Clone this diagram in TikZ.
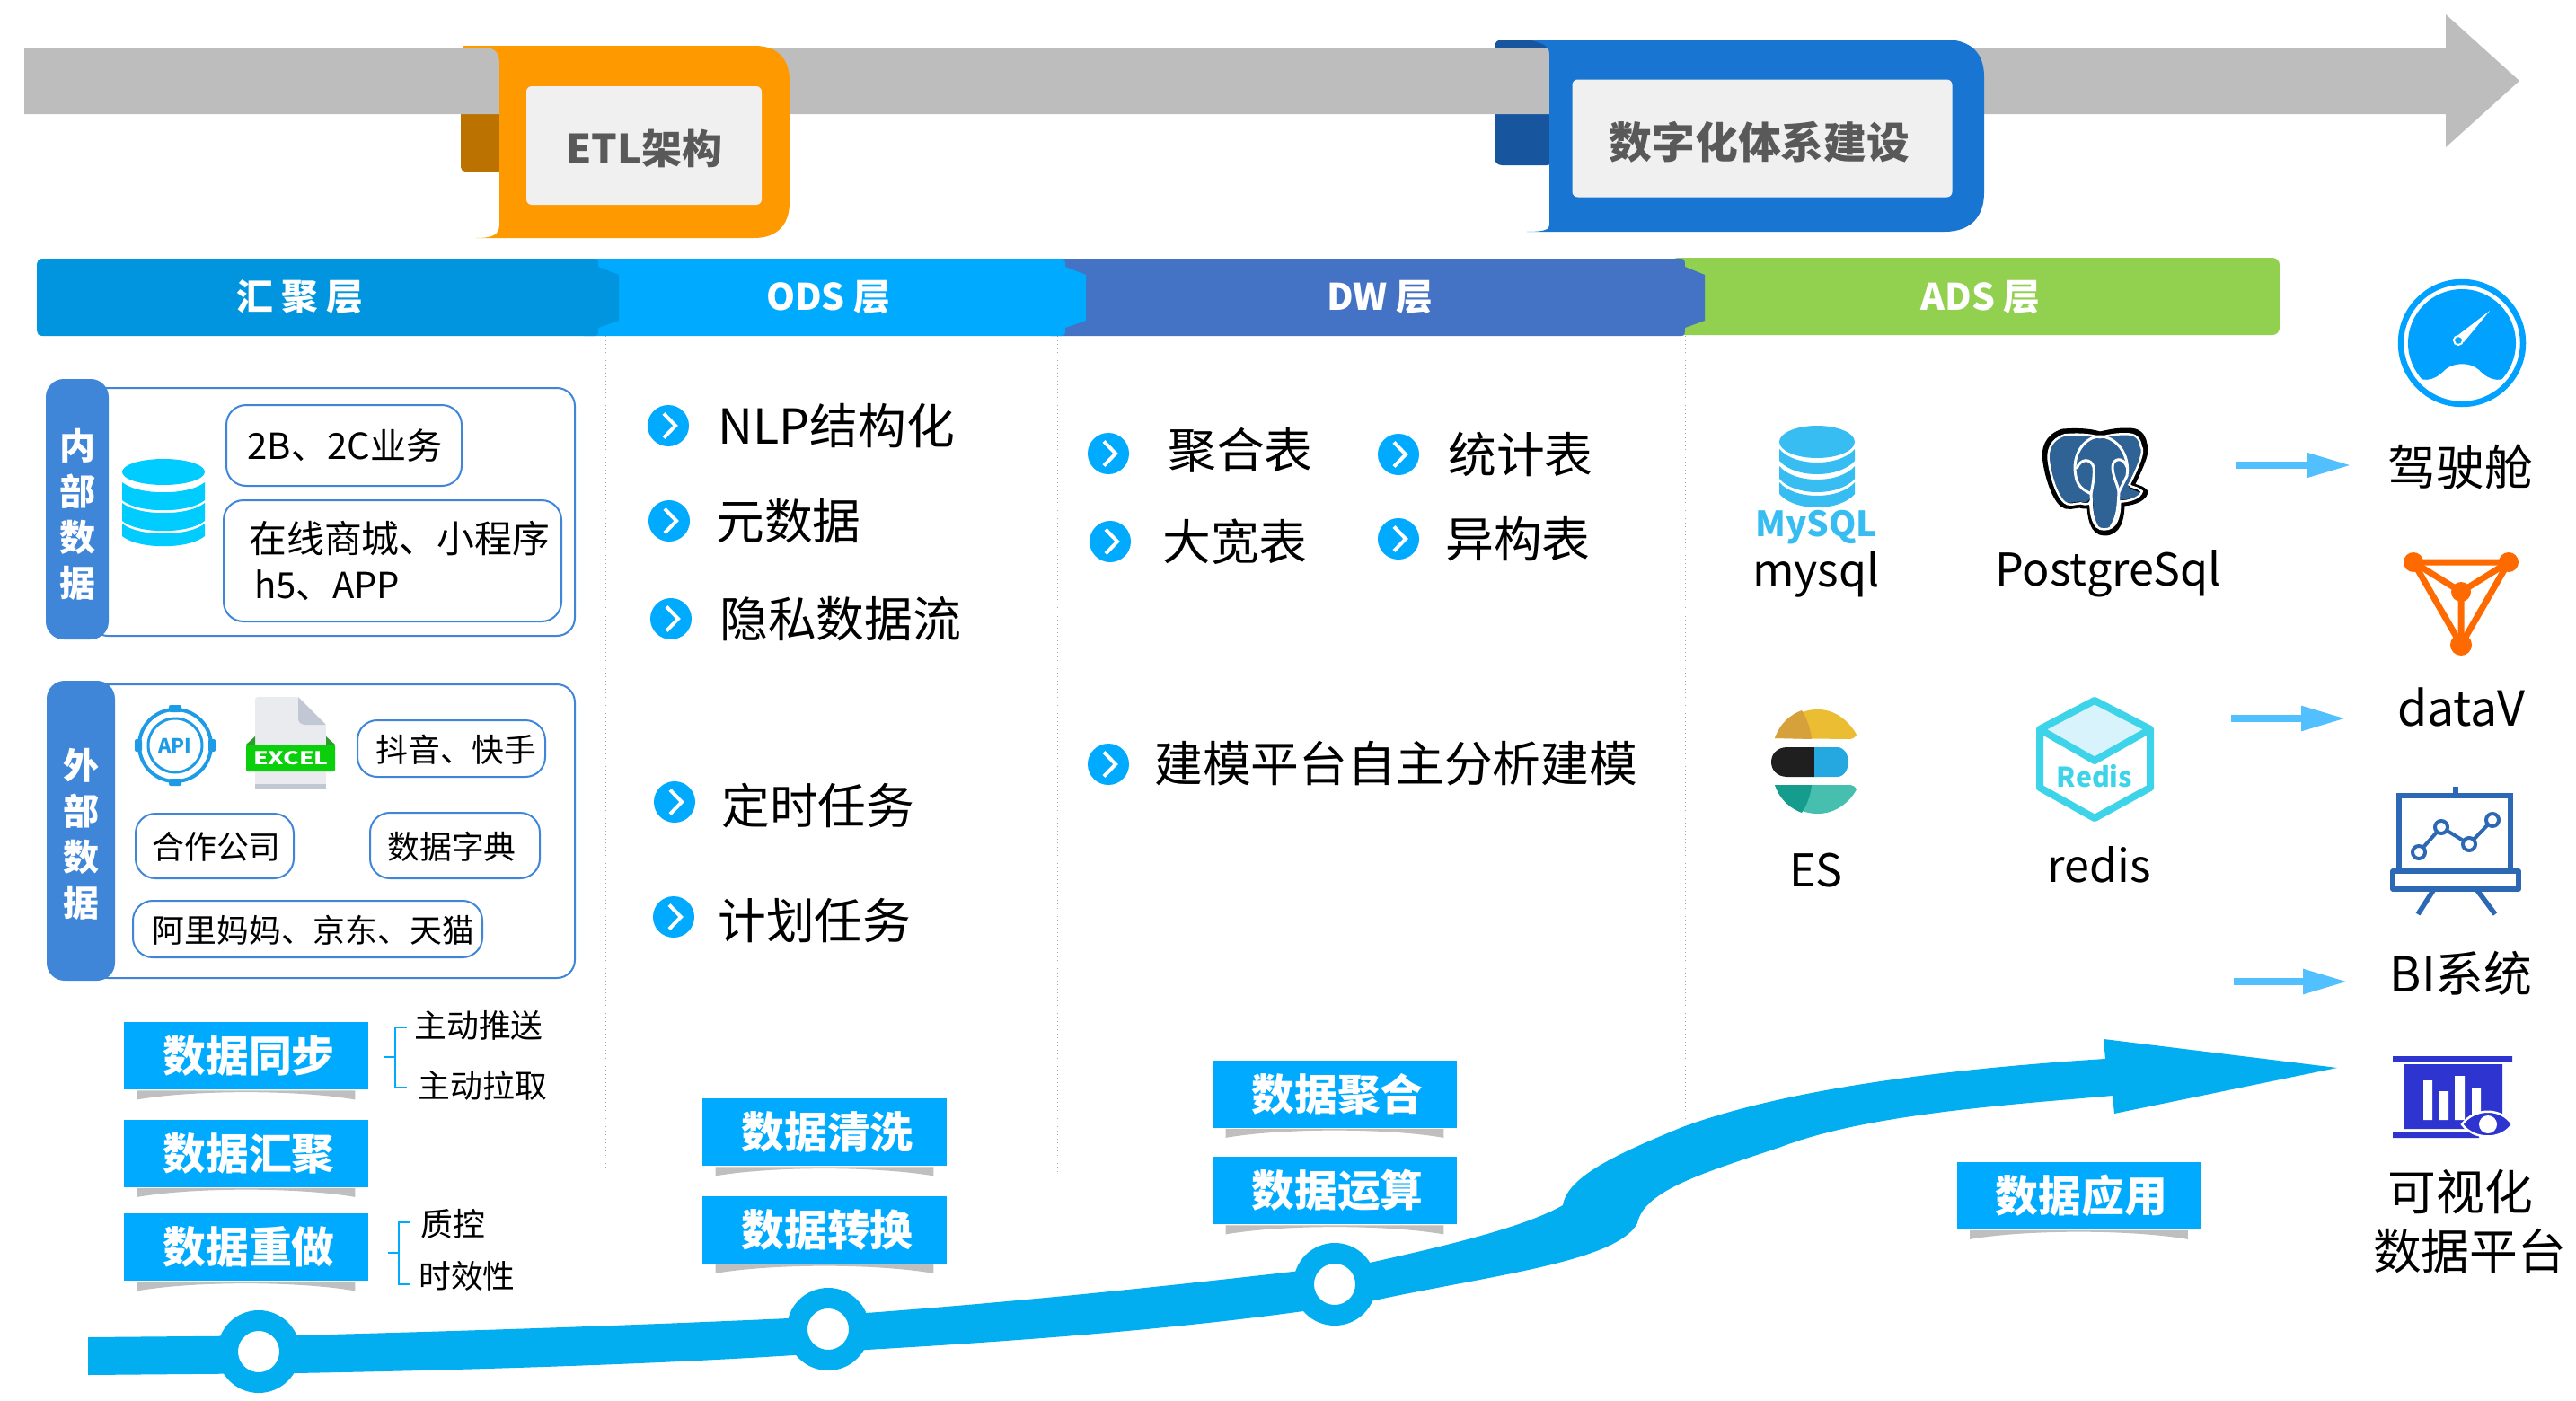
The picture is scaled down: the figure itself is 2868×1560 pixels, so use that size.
\documentclass[tikz,border=0pt]{standalone}
\usepackage{fontspec}
\setmainfont{Noto Sans CJK SC}
\usepackage{tikz}
\usetikzlibrary{shapes,arrows,arrows.meta,shapes.geometric}

\definecolor{trackgray}{HTML}{BDBDBD}
\definecolor{etlorange}{HTML}{FF9900}
\definecolor{etlfold}{HTML}{BB7200}
\definecolor{digiblue}{HTML}{1875D1}
\definecolor{digifold}{HTML}{17559F}
\definecolor{plaque}{HTML}{F0F0F0}
\definecolor{plaquetxt}{HTML}{595959}
\definecolor{gatherblue}{HTML}{0095DE}
\definecolor{odsblue}{HTML}{00AAFF}
\definecolor{dwblue}{HTML}{4472C4}
\definecolor{adsgreen}{HTML}{92D050}
\definecolor{tabblue}{HTML}{3F86D9}
\definecolor{linkblue}{HTML}{52C0FF}
\definecolor{riverblue}{HTML}{02AEF0}
\definecolor{shadegray}{HTML}{BFBFBF}
\definecolor{sqlblue}{HTML}{38BDF3}
\definecolor{dbcyan}{HTML}{00CCFF}
\definecolor{redisteal}{HTML}{3DD3E8}
\definecolor{boardblue}{HTML}{2D68B4}
\definecolor{vizblue}{HTML}{2D34CF}
\definecolor{vorange}{HTML}{FF6A00}
\definecolor{apiblue}{HTML}{1E9BE6}
\definecolor{pgblue}{HTML}{2F6295}
\definecolor{xlgreen}{HTML}{0CCF0C}
\definecolor{xldark}{HTML}{2F9B2F}
\definecolor{pagegray}{HTML}{E9EBEF}
\definecolor{foldgray}{HTML}{C1C7D3}
\definecolor{esyellow}{HTML}{EBBD33}
\definecolor{esorange}{HTML}{D6A13A}
\definecolor{esteal}{HTML}{47BFAF}
\definecolor{esdark}{HTML}{159C8C}
\definecolor{esblue}{HTML}{25A7DF}

\newcommand{\bannershade}[1]{
	\fill [shadegray] ([xshift=1.6mm]#1.south west) -- ([xshift=1.6mm,yshift=-1mm]#1.south west)
		.. controls ([xshift=8mm,yshift=0.1mm]#1.south west) and ([xshift=-8mm,yshift=0.1mm]#1.south east) ..
		([xshift=-1.6mm,yshift=-1mm]#1.south east) -- ([xshift=-1.6mm]#1.south east) -- cycle;
}
% one layer of a database stack: centre, half width, top edge, bottom edge, sag, colour
\newcommand{\dbband}[6]{
	\fill [#6] (#1-#2,#3) -- (#1-#2,#4) .. controls (#1-#2*0.6,#4+#5) and (#1+#2*0.6,#4+#5) .. (#1+#2,#4)
		-- (#1+#2,#3) .. controls (#1+#2*0.6,#3+#5) and (#1-#2*0.6,#3+#5) .. cycle;
}
\newcommand{\elephant}{
	(2297,481) .. controls (2280,486) and (2275,500) .. (2278,515)
	.. controls (2281,535) and (2290,560) .. (2300,563) .. controls (2307,565) and (2314,560) .. (2320,563)
	.. controls (2325,563) and (2327,562) .. (2327,560) .. controls (2327,575) and (2330,593) .. (2343,593)
	.. controls (2358,593) and (2362,578) .. (2362,560) .. controls (2372,560) and (2386,556) .. (2388,548)
	.. controls (2382,542) and (2376,544) .. (2373,540) .. controls (2382,522) and (2392,500) .. (2387,495)
	.. controls (2385,480) and (2375,480) .. (2367,480) .. controls (2355,480) and (2348,482) .. (2338,484)
	.. controls (2325,480) and (2310,480) .. (2297,481) -- cycle
}

\begin{document}
\begin{tikzpicture}[
	x=0.1mm, y=-0.1mm, thick, node distance=0.56cm, >=Triangle,
	plaquetxtstyle/.style={text=plaquetxt,inner sep=0},
	tierlabel/.style={font=\fontsize{11.6}{14}\selectfont\bfseries,text=white,inner sep=0},
	tabtxt/.style={font=\fontsize{11.4}{14.5}\selectfont\bfseries,text=white,inner sep=0,align=center},
	tagbox/.style={draw=tabblue,line width=0.2mm,rounded corners=2.2mm,inner sep=0,fill=white},
	tagtxt/.style={inner sep=0,font=\fontsize{11.4}{15}\selectfont},
	smalltxt/.style={inner sep=0,font=\fontsize{10.2}{12}\selectfont},
	bigtxt/.style={inner sep=0,font=\fontsize{15.3}{18}\selectfont},
	lattxt/.style={inner sep=0,font=\fontsize{14.3}{18}\selectfont},
	banner/.style={fill=odsblue,text=white,inner sep=0,minimum width=27.2mm,minimum height=7.5mm,
		font=\fontsize{13.6}{16}\selectfont\bfseries,execute at begin node={\hspace*{0.6mm}}},
	chevdot/.style={circle,fill=odsblue,inner sep=0,minimum size=4.6mm,path picture={
		\draw [white,line width=0.4mm]
			([shift={(-0.5mm,1.35mm)}]path picture bounding box.center) --
			([shift={(0.8mm,0mm)}]path picture bounding box.center) --
			([shift={(-0.5mm,-1.35mm)}]path picture bounding box.center);}},
	bracket/.style={draw=odsblue,line width=0.2mm},
	linkarrow/.style={draw=linkblue,line width=0.85mm,-{Triangle[length=5mm,width=2.6mm]}},
	divider/.style={draw=gray!70,line width=0.1mm,densely dotted},
	station/.style={circle,draw=riverblue,line width=2.3mm,fill=white,inner sep=0,minimum size=6.9mm}
	]
	\useasboundingbox (0,0) rectangle (2868,1560);

	% ribbon folds and the gray track
	\fill [etlfold,rounded corners=0.5mm] (513,120) rectangle (560,191);
	\fill [digifold,rounded corners=0.8mm] (1664,44) rectangle (1730,184);
	\fill [trackgray] (27,53) -- (2723,53) -- (2723,16) -- (2805,90) -- (2723,164) -- (2723,127) -- (27,127) -- cycle;
	\fill [etlorange] (515,51) -- (560,51) -- (560,80) -- (556,70) .. controls (556,58) and (550,53) .. (540,53) -- (515,53) -- cycle;
	\fill [etlorange] (556,60) -- (840,51) .. controls (865,51) and (879,65) .. (879,90) -- (879,226)
		.. controls (879,250) and (865,265) .. (840,265) -- (530,265) .. controls (548,265) and (556,262) .. (556,250) -- cycle;
	\fill [etlorange] (556,51) rectangle (840,80);
	\fill [digiblue] (1700,44) .. controls (1715,47) and (1725,50) .. (1725,60) -- (1725,250)
		.. controls (1725,255) and (1722,258) .. (1700,258) -- (2165,258) .. controls (2195,258) and (2209,240) .. (2209,215)
		-- (2209,85) .. controls (2209,60) and (2195,44) .. (2165,44) -- cycle;

	\node [fill=plaque,rounded corners=0.6mm,minimum width=26.2mm,minimum height=13.2mm,name=ETL] (ETL) at (717,162) {};
	\node [plaquetxtstyle,font=\fontsize{12.8}{16}\selectfont\bfseries] (ETLt) at (717,165) {ETL架构};
	\node [fill=plaque,rounded corners=0.6mm,minimum width=42.3mm,minimum height=13.1mm,name=DIGI] (DIGI) at (1962,154) {};
	\node [plaquetxtstyle,font=\fontsize{13.6}{16}\selectfont\bfseries] (DIGIt) at (1959,158) {数字化体系建设};

	% tier band
	\fill [adsgreen,rounded corners=0.8mm] (1860,287) rectangle (2538,373);
	\fill [dwblue] (1170,288) -- (1872,288) .. controls (1876,288) and (1876,292) .. (1876,297) -- (1898,306) -- (1898,357) -- (1876,365) .. controls (1876,371) and (1876,374) .. (1872,374) -- (1170,374) -- cycle;
	\fill [odsblue] (650,288) -- (1182,288) .. controls (1186,288) and (1186,292) .. (1186,297) -- (1209,306) -- (1209,357) -- (1186,365) .. controls (1186,371) and (1186,374) .. (1182,374) -- (650,374) -- cycle;
	\fill [gatherblue] (47,288) -- (662,288) .. controls (666,288) and (666,292) .. (666,297) -- (689,306) -- (689,357) -- (666,365) .. controls (666,371) and (666,374) .. (662,374) -- (47,374) .. controls (43,374) and (41,371) .. (41,368) -- (41,294) .. controls (41,291) and (43,288) .. (47,288) -- cycle;
	\node [tierlabel] (GA) at (334,331) {汇 聚 层};
	\node [tierlabel] (ODS) at (922,331) {ODS 层};
	\node [tierlabel] (DW) at (1536,331) {DW 层};
	\node [tierlabel] (ADS) at (2205,331) {ADS 层};

	\draw [divider] (674,374) -- (674,1302);
	\draw [divider] (1177,374) -- (1177,1306);
	\draw [divider] (1876,374) -- (1876,1255);

	% inner data
	\node [draw=tabblue,line width=0.2mm,rounded corners=2mm,inner sep=0,minimum width=54mm,minimum height=27.6mm,name=INb] (INb) at (370,570) {};
	\node [fill=tabblue,rounded corners=2mm,inner sep=0,minimum width=7mm,minimum height=29mm,name=INt] (INt) at (86,567) {};
	\node [tabtxt] (INl) at (87,573) {内\\部\\数\\据};
	\fill [dbcyan] (182,525.5) ellipse (46 and 14.5);
	\dbband{182}{46}{537}{557}{15}{dbcyan}
	\dbband{182}{46}{560}{580}{15}{dbcyan}
	\dbband{182}{46}{583}{597}{15}{dbcyan}
	\node [tagbox,minimum width=26.2mm,minimum height=9mm,name=T2B] (T2B) at (383,496) {};
	\node [tagtxt] (T2Bt) at (384,496) {2B、2C业务};
	\node [tagbox,minimum width=37.6mm,minimum height=13.5mm,name=TMALL] (TMALL) at (437,624.5) {};
	\node [tagtxt,font=\fontsize{11.9}{15}\selectfont,anchor=west] (TMALLa) at (276,600) {在线商城、小程序};
	\node [tagtxt,anchor=west] (TMALLb) at (282,652) {h5、APP};

	% outer data
	\node [draw=tabblue,line width=0.2mm,rounded corners=2mm,inner sep=0,minimum width=54mm,minimum height=32.7mm,name=OUTb] (OUTb) at (370,925.5) {};
	\node [fill=tabblue,rounded corners=2mm,inner sep=0,minimum width=7.6mm,minimum height=33.4mm,name=OUTt] (OUTt) at (90,925) {};
	\node [tabtxt] (OUTl) at (91,929) {外\\部\\数\\据};
	\draw [apiblue,line width=0.4mm] (195,830) circle (40);
	\draw [apiblue,line width=0.3mm] (195,830) circle (30);
	\fill [apiblue,rounded corners=0.2mm] (188,785) rectangle (202,793) (188,867) rectangle (202,875) (150,823) rectangle (158,837) (232,823) rectangle (240,837);
	\node [inner sep=0,text=apiblue,font=\fontsize{6.2}{7}\selectfont\bfseries] (API) at (195,830) {API};
	\fill [pagegray,rounded corners=0.3mm] (284,776) -- (332,776) -- (363,807) -- (363,878) -- (284,878) -- cycle;
	\fill [foldgray] (332,776) -- (363,807) -- (340,807) .. controls (335,807) and (332,804) .. (332,800) -- cycle;
	\fill [foldgray] (284,873) rectangle (363,878);
	\fill [xldark] (274,829) -- (284,820) -- (284,829) -- cycle (373,829) -- (363,820) -- (363,829) -- cycle;
	\fill [xlgreen,rounded corners=0.2mm] (274,829) rectangle (373,859);
	\node [inner sep=0,text=white,font=\fontsize{5.6}{7}\selectfont\bfseries] (XL) at (324,844) {\scalebox{1.35}[1]{EXCEL}};
	\node [tagbox,minimum width=20.9mm,minimum height=6.3mm,name=TDY] (TDY) at (502.5,833.5) {};
	\node [smalltxt] (TDYt) at (508,835) {抖音、快手};
	\node [tagbox,minimum width=17.6mm,minimum height=7.2mm,name=TCO] (TCO) at (239,942) {};
	\node [smalltxt] (TCOt) at (241,943) {合作公司};
	\node [tagbox,minimum width=18.9mm,minimum height=7.3mm,name=TDIC] (TDIC) at (506.5,941.5) {};
	\node [smalltxt] (TDICt) at (503,943) {数据字典};
	\node [tagbox,minimum width=38.9mm,minimum height=6.3mm,name=TALI] (TALI) at (342.5,1034.5) {};
	\node [smalltxt] (TALIt) at (349,1036) {阿里妈妈、京东、天猫};

	% step banners
	\node [banner,name=B1] (B1) at (274,1175.5) {数据同步};
	\node [banner,name=B2] (B2) at (274,1284) {数据汇聚};
	\node [banner,name=B3] (B3) at (274,1388.5) {数据重做};
	\node [banner,name=B4] (B4) at (918,1260.5) {数据清洗};
	\node [banner,name=B5] (B5) at (918,1369) {数据转换};
	\node [banner,name=B6] (B6) at (1486,1218) {数据聚合};
	\node [banner,name=B7] (B7) at (1486,1325.5) {数据运算};
	\node [banner,name=B8] (B8) at (2314.5,1331) {数据应用};
	\bannershade{B1} \bannershade{B2} \bannershade{B3} \bannershade{B4}
	\bannershade{B5} \bannershade{B6} \bannershade{B7} \bannershade{B8}

	\coordinate (sA) at (428,1177);
	\coordinate (jA) at (440,1177);
	\coordinate (uA) at (453,1144);
	\coordinate (dA) at (453,1211);
	\draw [bracket] (sA) -- (jA) |- (uA);
	\draw [bracket] (jA) |- (dA);
	\coordinate (sB) at (432,1395);
	\coordinate (jB) at (444,1395);
	\coordinate (uB) at (457,1361);
	\coordinate (dB) at (457,1430);
	\draw [bracket] (sB) -- (jB) |- (uB);
	\draw [bracket] (jB) |- (dB);
	\node [smalltxt] (pA) at (533,1142) {主动推送};
	\node [smalltxt] (pB) at (537.5,1209) {主动拉取};
	\node [smalltxt] (pC) at (504,1363) {质控};
	\node [smalltxt] (pD) at (520,1421) {时效性};

	% ODS list
	\node [chevdot] (c1) at (744,474) {};
	\node [bigtxt,node distance=0.54cm,right of=c1,anchor=west] (l1) {NLP结构化};
	\node [chevdot] (c2) at (745,580) {};
	\node [bigtxt,node distance=0.51cm,right of=c2,anchor=west] (l2) {元数据};
	\node [chevdot] (c3) at (747,689) {};
	\node [bigtxt,node distance=0.53cm,right of=c3,anchor=west] (l3) {隐私数据流};
	\node [chevdot] (c4) at (751,893) {};
	\node [bigtxt,node distance=0.51cm,right of=c4,anchor=west,yshift=-0.4mm] (l4) {定时任务};
	\node [chevdot] (c5) at (750,1021) {};
	\node [bigtxt,node distance=0.48cm,right of=c5,anchor=west,yshift=-0.4mm] (l5) {计划任务};

	% DW list
	\node [chevdot] (c6) at (1234,505) {};
	\node [bigtxt,anchor=west] (l6) at (1299,501) {聚合表};
	\node [chevdot] (c7) at (1236,603) {};
	\node [bigtxt,anchor=west] (l7) at (1293,603) {大宽表};
	\node [chevdot] (c8) at (1557,506) {};
	\node [bigtxt,anchor=west] (l8) at (1611,506) {统计表};
	\node [chevdot] (c9) at (1557,600) {};
	\node [bigtxt,anchor=west] (l9) at (1608,600) {异构表};
	\node [chevdot] (c10) at (1234,851) {};
	\node [bigtxt,anchor=west] (l10) at (1284,850) {建模平台自主分析建模};

	% mysql
	\fill [sqlblue] (2023,492) ellipse (42 and 18);
	\dbband{2023}{42}{500}{513}{20}{sqlblue}
	\dbband{2023}{42}{519}{533}{20}{sqlblue}
	\dbband{2023}{42}{537}{550}{20}{sqlblue}
	\node [inner sep=0,text=sqlblue,font=\fontsize{11}{14}\selectfont\bfseries] (SQLm) at (2022,587) {MySQL};
	\node [lattxt] (SQL) at (2022,639) {mysql};

	% postgres
	\draw [fill=pgblue,draw=black,line width=0.7mm,line join=round] \elephant;
	\draw [white,line width=0.25mm,shift={(2333,535)},scale=0.94,shift={(-2333,-535)}] \elephant;
	\draw [white,line width=0.3mm] (2311,530) .. controls (2306,505) and (2322,486) .. (2338,486) .. controls (2355,486) and (2372,505) .. (2368,530) -- (2359,548);
	\draw [white,line width=0.3mm] (2311,530) .. controls (2313,545) and (2326,548) .. (2328,550) .. controls (2329,565) and (2328,575) .. (2335,587);
	\draw [white,line width=0.3mm] (2312,522) .. controls (2316,510) and (2328,510) .. (2331,520) .. controls (2332,530) and (2330,540) .. (2328,550);
	\draw [white,line width=0.3mm] (2368,520) .. controls (2364,508) and (2352,510) .. (2352,520) .. controls (2352,530) and (2358,540) .. (2359,548) .. controls (2358,565) and (2358,575) .. (2350,587);
	\node [lattxt] (PG) at (2347,639) {PostgreSql};

	% elastic
	\fill [esyellow] (1976,822) .. controls (1985,800) and (2005,790) .. (2024,790) .. controls (2045,790) and (2060,805) .. (2067,818) .. controls (2065,822) and (2062,823) .. (2058,823) -- cycle;
	\fill [esorange] (1976,822) .. controls (1982,804) and (1995,795) .. (2006,791) .. controls (2012,800) and (2016,812) .. (2017,823) -- cycle;
	\fill [black!88] (1990,832) -- (2020,832) -- (2020,865) -- (1990,865) .. controls (1966,865) and (1966,832) .. (1990,832) -- cycle;
	\fill [esblue] (2020,832) -- (2045,832) .. controls (2062,832) and (2062,865) .. (2045,865) -- (2020,865) -- cycle;
	\fill [esteal] (1976,874) -- (2058,874) .. controls (2062,874) and (2065,875) .. (2067,879) .. controls (2060,892) and (2045,906) .. (2024,906) .. controls (2005,906) and (1985,896) .. (1976,874) -- cycle;
	\fill [esdark] (1976,874) -- (2017,874) .. controls (2016,885) and (2012,896) .. (2006,905) .. controls (1995,901) and (1982,892) .. (1976,874) -- cycle;
	\node [lattxt] (ES) at (2022,969) {ES};

	% redis
	\draw [fill=cyan!15,draw=redisteal,line width=0.8mm,line join=round] (2332,780) -- (2394,812) -- (2332,847) -- (2271,812) -- cycle;
	\draw [redisteal,line width=0.8mm,line join=round] (2271,812) -- (2271,877) -- (2332,911) -- (2394,877) -- (2394,812);
	\node [inner sep=0,text=redisteal,font=\fontsize{8.6}{10}\selectfont\bfseries] (RDm) at (2332,864) {Redis};
	\node [lattxt] (RD) at (2337,963) {redis};

	% links to the outputs
	\coordinate (a1) at (2489,518);
	\coordinate (b1) at (2618,518);
	\coordinate (a2) at (2484,800);
	\coordinate (b2) at (2612,800);
	\coordinate (a3) at (2487,1093);
	\coordinate (b3) at (2614,1093);
	\draw [linkarrow] (a1) -- (b1);
	\draw [linkarrow] (a2) -- (b2);
	\draw [linkarrow] (a3) -- (b3);

	% dashboard
	\fill [odsblue!95!blue] (2741,382) circle (60);
	\fill [white] (2680,412) .. controls (2695,428) and (2710,425) .. (2722,412) .. controls (2732,403) and (2750,403) .. (2760,412) .. controls (2772,425) and (2787,428) .. (2802,412) -- (2802,445) -- (2680,445) -- cycle;
	\draw [odsblue!95!blue,line width=0.65mm] (2741,382) circle (68);
	\fill [white] (2772,346) -- (2743,381) -- (2733,376) -- cycle;
	\draw [white,line width=0.2mm,fill=odsblue] (2737,379) circle (5);
	\node [bigtxt] (COCK) at (2739.5,520) {驾驶舱};

	% dataV
	\draw [vorange,line width=0.7mm,line join=round] (2687,626) -- (2793,626) -- (2740,718) -- cycle;
	\draw [vorange,line width=0.7mm] (2687,626) -- (2740,659) -- (2793,626) (2740,659) -- (2740,718);
	\fill [vorange] (2687,626) circle (11) (2793,626) circle (11) (2740,659) circle (11) (2740,718) circle (12);
	\node [bigtxt] (DV) at (2740,787) {dataV};

	% BI board
	\draw [boardblue,line width=0.55mm] (2734,876) -- (2734,886) (2671,970) |- (2795,886) -- (2795,970);
	\draw [boardblue,line width=0.55mm,line join=round,fill=white] (2664,970) rectangle (2804,990);
	\draw [boardblue,line width=0.55mm] (2710,990) -- (2692,1018) (2757,990) -- (2778,1018);
	\draw [boardblue,line width=0.4mm] (2693,949) -- (2718,921) -- (2749,940) -- (2775,913);
	\draw [boardblue,line width=0.4mm,fill=white] (2693,949) circle (7) (2718,921) circle (7) (2749,940) circle (7) (2775,913) circle (7);
	\node [bigtxt] (BI) at (2740,1083.5) {BI系统};

	% visual screen
	\fill [vizblue] (2664,1176) rectangle (2797,1182) (2676,1185) rectangle (2786,1257) (2664,1260) rectangle (2760,1267);
	\fill [white] (2698,1203) rectangle (2708,1247) (2716,1215) rectangle (2726,1247) (2733,1198) rectangle (2744,1247) (2752,1212) rectangle (2762,1247);
	\draw [fill=vizblue,draw=white,line width=0.25mm] (2741,1252) .. controls (2755,1233) and (2785,1233) .. (2797,1252) .. controls (2785,1270) and (2755,1270) .. (2741,1252) -- cycle;
	\fill [white] (2770,1252) circle (10);
	\node [bigtxt] (VZa) at (2739.6,1327) {可视化};
	\node [bigtxt] (VZb) at (2749.6,1393) {数据平台};

	% rising river with stations
	\fill [riverblue] (98,1489) -- (329,1487) .. controls (520,1482) and (700,1476) .. (878,1468) .. controls (1080,1455) and (1280,1435) .. (1525,1406)
		.. controls (1620,1385) and (1700,1365) .. (1740,1342) .. controls (1745,1310) and (1800,1285) .. (1873,1255)
		.. controls (1990,1212) and (2170,1190) .. (2344,1179) -- (2342,1157) -- (2602,1189) -- (2354,1240) -- (2352,1220)
		.. controls (2240,1230) and (2080,1240) .. (1983,1277) .. controls (1900,1305) and (1830,1325) .. (1823,1362)
		.. controls (1800,1405) and (1660,1420) .. (1530,1448) .. controls (1340,1480) and (1100,1495) .. (965,1503)
		.. controls (800,1517) and (550,1525) .. (329,1529) -- (98,1531) -- cycle;
	\node [station,name=S1] (S1) at (288,1505) {};
	\node [station,name=S2] (S2) at (922,1480) {};
	\node [station,name=S3] (S3) at (1486,1430) {};
\end{tikzpicture}
\end{document}
